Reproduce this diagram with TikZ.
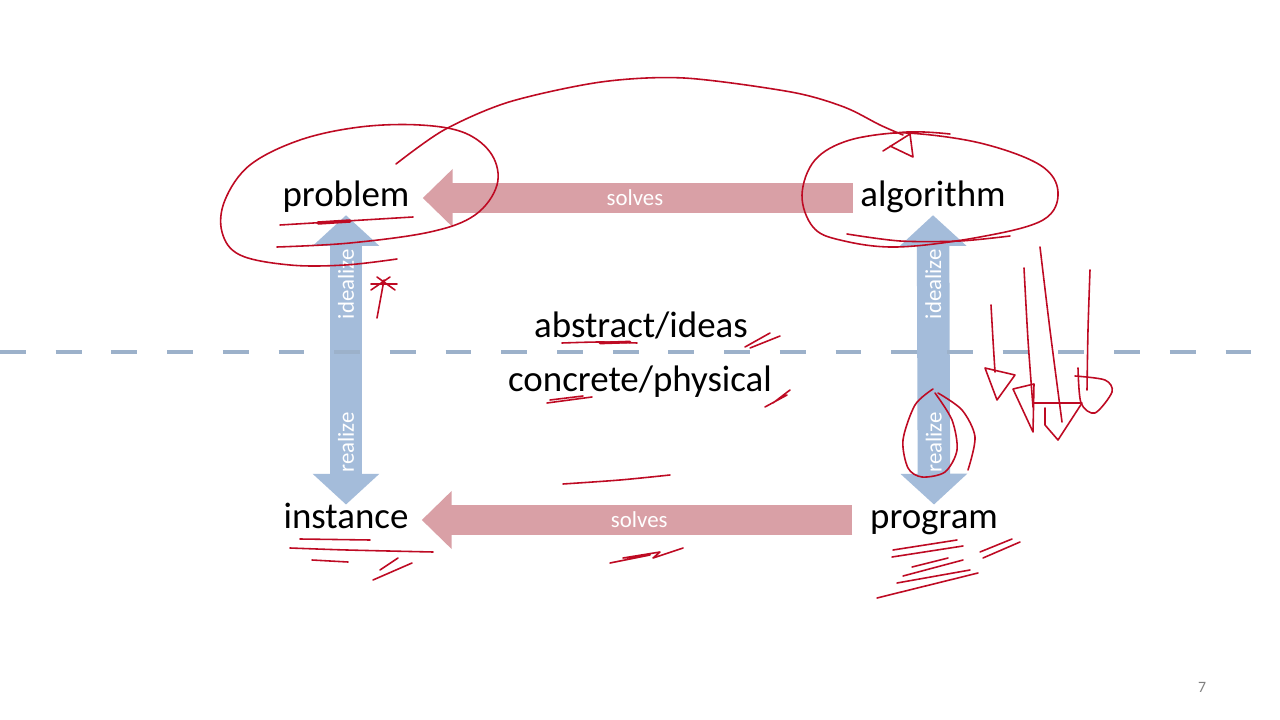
\documentclass[tikz,border=0pt]{standalone}
\usepackage{fontspec}
\setmainfont{Carlito}
\usetikzlibrary{arrows.meta}
\definecolor{solvepink}{RGB}{217,160,166}
\definecolor{realblue}{RGB}{164,188,218}
\definecolor{dashblue}{RGB}{156,177,202}
\definecolor{inkred}{RGB}{190,10,35}

\begin{document}
\begin{tikzpicture}[x=0.2mm, y=-0.2mm,
    word/.style={font=\fontsize{21}{25}\selectfont, text height=14.7pt, text depth=4.5pt, inner xsep=4pt, inner ysep=0pt},
    solvearrow/.style={solvepink, line width=17pt, -{Triangle[width=32pt, length=17pt]}, shorten >=3.4pt},
    idealarrow/.style={realblue, line width=18.5pt, {Triangle[width=37pt, length=17.5pt]}-{Triangle[width=37pt, length=17.5pt]}, shorten >=-1pt},
    lbl/.style={white, font=\fontsize{13}{15}\selectfont},
    ink/.style={inkred, line width=0.9pt, line cap=round, line join=round}]
      \fill[white] (0,0) rectangle (1280,720);
      \useasboundingbox (0,0) rectangle (1280,720);
      \node[word] (prob) at (346,198) {problem};
      \node[word] (algo) at (933,198) {algorithm};
      \node[word] (inst) at (346,520) {instance};
      \node[word] (prog) at (934,520) {program};
      \node[word, anchor=base] (abst) at (641,337) {abstract/ideas};
      \node[word, anchor=base] (conc) at (640,391) {concrete/physical};
      \node[gray, font=\fontsize{9}{11}\selectfont] (page) at (1202,687) {7};
      \draw[solvearrow] (algo.west) -- (prob.east) node[midway, lbl] {solves};
      \draw[solvearrow, shorten <=6pt] (prog.west) -- (inst.east) node[midway, lbl] {solves};
      \draw[idealarrow] (prob.south) -- (inst.north)
        node[pos=0.24, lbl, rotate=90] {idealize} node[pos=0.79, lbl, rotate=90] {realize};
      \draw[idealarrow] (algo.south) -- (prog.north)
        node[pos=0.24, lbl, rotate=90] {idealize} node[pos=0.79, lbl, rotate=90] {realize};
      \draw[dashblue, line width=1.8pt, dash pattern=on 14.7pt off 17pt] (0,352) -- (1280,352);
      \draw[ink] plot[smooth, tension=0.6] coordinates {(277,247) (350,243) (430,232) (475,215) (497,185) (492,155) (465,133) (420,125) (360,127) (300,140) (250,165) (225,200) (222,232) (240,255) (290,265) (345,265) (397,259)};
      \draw[ink] (280,225) -- (413,217);
      \draw[ink, line width=2pt] (318,223) -- (350,221);
      \draw[ink] plot[smooth] coordinates {(396,164) (444,130) (509,102) (601,82) (684,78) (791,92) (844,107) (880,125) (903,135)};
      \draw[ink] (883,151) -- (910,134) -- (913,157) -- (890,146);
      \draw[ink] plot[smooth, tension=0.6] coordinates {(863,137) (907,133) (980,143) (1040,165) (1058,192) (1043,220) (980,237) (897,247) (840,240) (813,227) (802,195) (815,160) (850,140) (907,132) (950,134)};
      \draw[ink] plot[smooth] coordinates {(847,234) (900,241) (960,241) (1010,236)};
      \draw[ink] (371,290) -- (390,277) (377,277) -- (395,290) (371,284) -- (397,284) (384,280) -- (377,318);
      \draw[ink] plot[smooth] coordinates {(562,343) (600,342) (637,343)};
      \draw[ink, line width=1.6pt] (600,343) -- (630,342);
      \draw[ink] (745,347) -- (770,333) (750,348) -- (780,336);
      \draw[ink] (547,403) -- (592,397) (550,400) -- (583,396);
      \draw[ink] (765,407) -- (787,395) (773,403) -- (790,390);
      \draw[ink] plot[smooth] coordinates {(563,484) (620,480) (670,475)};
      \draw[ink] (610,563) -- (650,555) -- (623,558) -- (660,552) -- (653,558) -- (683,548);
      \draw[ink] (300,539) -- (370,540);
      \draw[ink] plot[smooth] coordinates {(290,548) (347,550) (433,552)};
      \draw[ink] (312,560) -- (348,562) (373,580) -- (412,563) (380,570) -- (398,558);
      \draw[ink] (893,550) -- (957,540) (892,557) -- (963,546) (912,567) -- (948,558);
      \draw[ink] (903,576) -- (963,560) (897,583) -- (970,570) (877,598) -- (978,573);
      \draw[ink] (980,552) -- (1012,539) (983,558) -- (1020,542);
      \draw[ink] plot[smooth] coordinates {(933,389) (915,405) (903,440) (908,468) (922,477) (945,472) (957,450) (952,420) (935,393)};
      \draw[ink] plot[smooth] coordinates {(938,393) (962,410) (975,437) (968,470)};
      \draw[ink] plot[smooth] coordinates {(991,305) (993,340) (995,372)};
      \draw[ink] (985,368) -- (1015,375) -- (997,400) -- cycle;
      \draw[ink] plot[smooth] coordinates {(1024,268) (1028,340) (1033,407)};
      \draw[ink] (1013,389) -- (1034,384) -- (1033,432) -- (1013,389);
      \draw[ink] plot[smooth] coordinates {(1040,247) (1050,330) (1062,422)};
      \draw[ink] (1033,403) -- (1082,403) -- (1058,440) -- (1045,425) -- (1045,408);
      \draw[ink] plot[smooth] coordinates {(1090,270) (1088,330) (1087,390)};
      \draw[ink] plot[smooth] coordinates {(1075,376) (1105,380) (1112,392) (1095,413) (1081,403) (1078,368)};
    \end{tikzpicture}
\end{document}
